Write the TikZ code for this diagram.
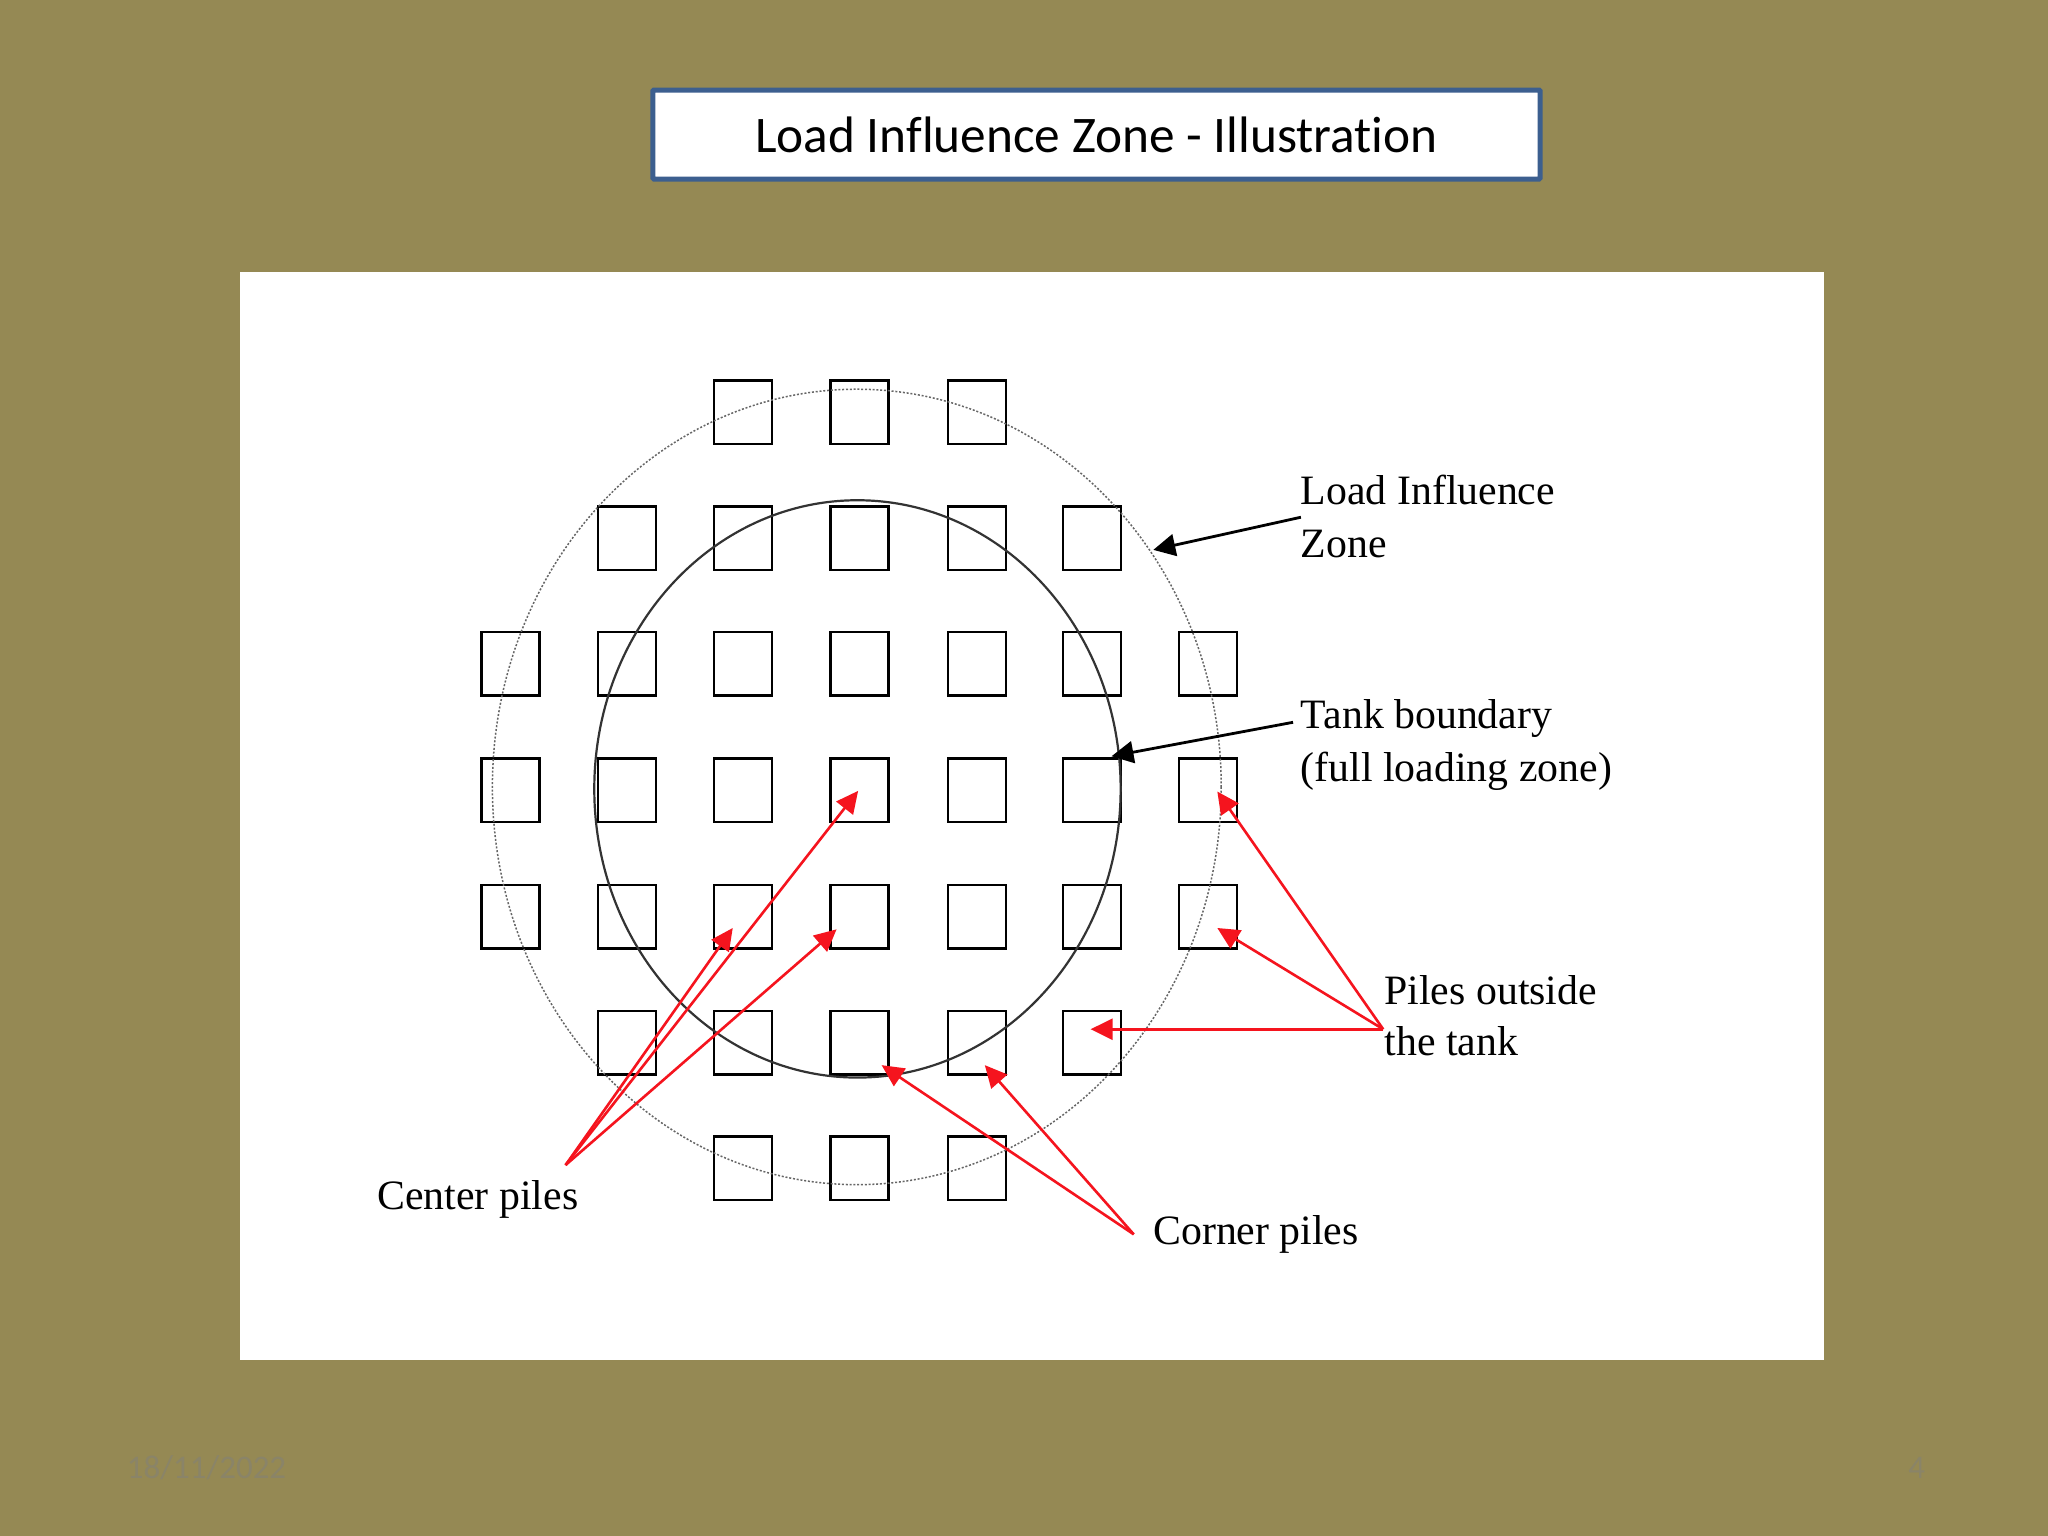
\documentclass[tikz,border=0pt]{standalone}
\usepackage{fontspec}
\setmainfont{Liberation Serif}
\newfontfamily\carl[Ligatures=NoCommon]{Carlito}
\usetikzlibrary{arrows.meta}
\definecolor{bgolive}{HTML}{958954}
\definecolor{titleblue}{HTML}{3C5F8F}
\definecolor{footgray}{HTML}{8A8468}
\definecolor{arrowred}{HTML}{F5141E}
\tikzset{
  pile/.style={draw=black,line width=2.5pt,minimum width=58pt,minimum height=63.5pt,inner sep=0pt,outer sep=0pt},
  lbl/.style={inner sep=0pt,outer sep=0pt,align=left,text=black,font=\fontsize{41.8}{53.5}\selectfont},
  blackarrow/.style={draw=black,line width=2.8pt,-{Triangle[length=22pt,width=22pt]}},
  redarrow/.style={draw=arrowred,line width=2.6pt,-{Triangle[length=22pt,width=21pt]}},
}
\begin{document}
\begin{tikzpicture}[x=1.30612pt,y=-1.30612pt]
\useasboundingbox (0,0) rectangle (1568,1176);
\fill[bgolive] (0,0) rectangle (1568,1176);
\fill[white] (184,208) rectangle (1396.7,1041);
\node[draw=titleblue,line width=5pt,fill=white,minimum width=887pt,minimum height=89pt,inner sep=0pt,rounded corners=1pt,
  font=\carl\fontsize{51.3}{58}\selectfont] (title) at (839.5,103) {Load Influence Zone - Illustration};
% piles
\foreach \r/\yy/\cols in {1/315.5/{3,4,5},2/412/{2,3,4,5,6},3/508/{1,2,3,4,5,6,7},4/605/{1,2,3,4,5,6,7},5/702/{1,2,3,4,5,6,7},6/798.5/{2,3,4,5,6},7/894.5/{3,4,5}}{
  \foreach \c in \cols {
    \pgfmathsetmacro{\xx}{{0,391,480,569,658,748,836,925}[\c]}
    \node[pile] (p\r\c) at (\xx,\yy) {};
  }
}
% circles
\draw[black!80,line width=2.2pt] (656.5,604) ellipse [x radius=201.5,y radius=221];
\draw[black!60,line width=1.5pt,dash pattern=on 2pt off 1.8pt] (656,602.5) ellipse [x radius=279,y radius=304.5];
% labels
\node[lbl,anchor=west] (lz) at (996,395.5) {Load Influence\\Zone};
\node[lbl,anchor=west] (tb) at (996,570.5) {Tank boundary\\(full loading zone)};
\node[lbl,anchor=west,font=\fontsize{41.8}{50.5}\selectfont] (po) at (1060,777.5) {Piles outside\\the tank};
\node[lbl,anchor=base west] (cp) at (883,953) {Corner piles};
\node[lbl,anchor=base west] (ce) at (289,926) {Center piles};
% footers
\node[inner sep=0pt,anchor=base west,text=footgray,font=\carl\fontsize{33}{36}\selectfont] (date) at (97,1132) {18/11/2022};
\node[inner sep=0pt,anchor=base west,text=footgray,font=\carl\fontsize{33}{36}\selectfont] (page) at (1461,1132) {4};
% arrow ends
\coordinate (a1) at (996,396); \coordinate (a1e) at (883,421);
\coordinate (a2) at (990,553); \coordinate (a2e) at (851,579);
\coordinate (rp) at (1059,788);
\coordinate (rp1) at (932,606); \coordinate (rp2) at (932,710.5); \coordinate (rp3) at (835,788);
\coordinate (rc) at (868,945);
\coordinate (rc1) at (675,815.5); \coordinate (rc2) at (754,815.5);
\coordinate (re) at (433,892);
\coordinate (re1) at (657,605.5); \coordinate (re2) at (561,710.5); \coordinate (re3) at (640.5,711.5);
\draw[blackarrow] (a1) -- (a1e);
\draw[blackarrow] (a2) -- (a2e);
\foreach \t in {rp1,rp2,rp3} \draw[redarrow] (rp) -- (\t);
\foreach \t in {rc1,rc2} \draw[redarrow] (rc) -- (\t);
\foreach \t in {re1,re2,re3} \draw[redarrow] (re) -- (\t);
\end{tikzpicture}
\end{document}
